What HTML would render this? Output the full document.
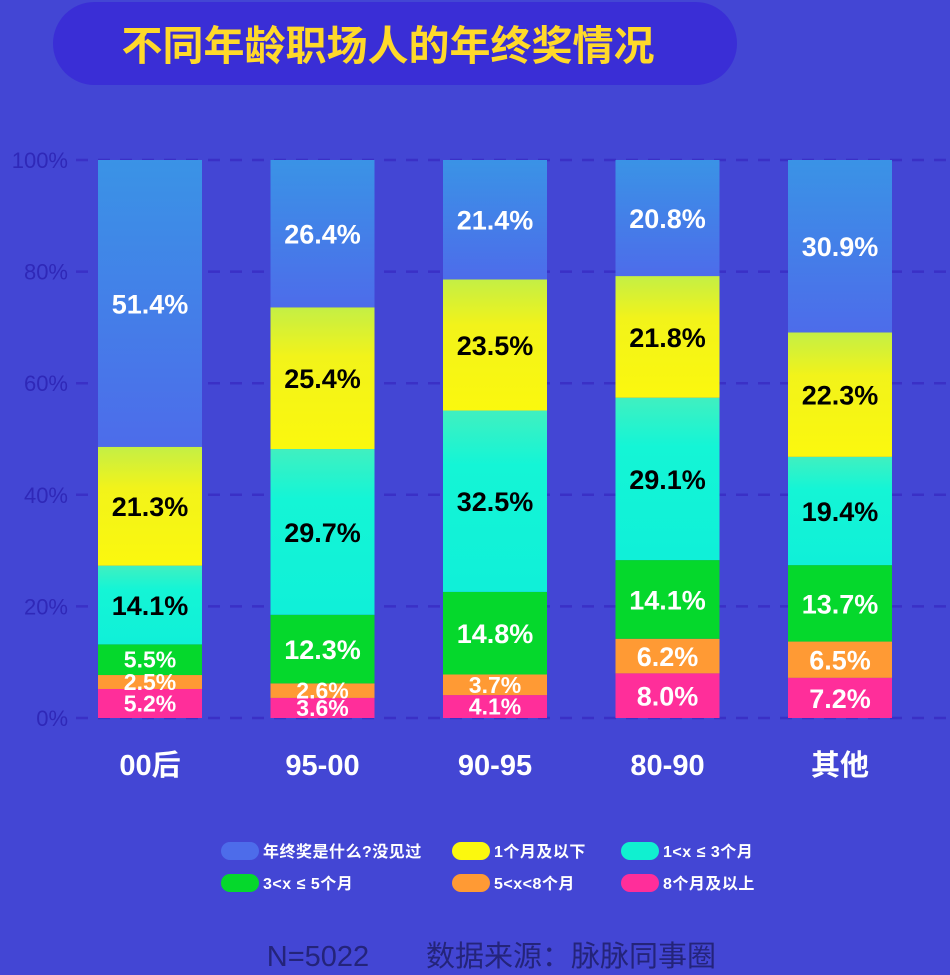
<!DOCTYPE html>
<html><head><meta charset="utf-8">
<style>
html,body{margin:0;padding:0;background:#4346d4;}
svg{display:block;font-family:"Liberation Sans","Noto Sans CJK SC",sans-serif;}
</style></head>
<body>
<svg id="chart" width="950" height="975" viewBox="0 0 950 975">
<defs>
<linearGradient id="gBlue" x1="0" y1="0" x2="0" y2="1"><stop offset="0" stop-color="#3a93e6"/><stop offset="1" stop-color="#4d6cea"/></linearGradient>
<linearGradient id="gYellow" x1="0" y1="0" x2="0" y2="1"><stop offset="0" stop-color="#c4ef45"/><stop offset="0.35" stop-color="#f2f31a"/><stop offset="1" stop-color="#fbf80e"/></linearGradient>
<linearGradient id="gCyan" x1="0" y1="0" x2="0" y2="1"><stop offset="0" stop-color="#40f0c0"/><stop offset="0.3" stop-color="#14f5d6"/><stop offset="1" stop-color="#10f0d8"/></linearGradient>
</defs>
<rect x="0" y="0" width="950" height="975" fill="#4346d4"/>
<rect x="53" y="2" width="684" height="83" rx="41.5" fill="#3a2ed6"/>
<text x="388" y="60" text-anchor="middle" font-size="41" font-weight="bold" fill="#ffd92a">不同年龄职场人的年终奖情况</text>
<g id="grid"></g>
<g id="bars"></g>
<g id="legend"></g>
<text x="318" y="966" text-anchor="middle" font-size="29" fill="#24247a">N=5022</text>
<text x="571" y="966" text-anchor="middle" font-size="29" fill="#24247a">数据来源：脉脉同事圈</text>
</svg>
<script>
const categories = ["00后","95-00","90-95","80-90","其他"];
const seriesNames = ["8个月及以上","5<x<8个月","3<x ≤ 5个月","1<x ≤ 3个月","1个月及以下","年终奖是什么?没见过"];
const pinkVals   = [5.2, 3.6, 4.1, 8.0, 7.2];
const orangeVals = [2.5, 2.6, 3.7, 6.2, 6.5];
const greenVals  = [5.5, 12.3, 14.8, 14.1, 13.7];
const cyanVals   = [14.1, 29.7, 32.5, 29.1, 19.4];
const yellowVals = [21.3, 25.4, 23.5, 21.8, 22.3];
const blueVals   = [51.4, 26.4, 21.4, 20.8, 30.9];
const yTicks = [0, 20, 40, 60, 80, 100];

const NS = "http://www.w3.org/2000/svg";
const y0 = 718, y100 = 160;
const yScale = v => y0 - (y0 - y100) * v / 100;
const xCenter = i => 150 + i * 172.5;
const barW = 104;
function mk(tag, attrs, parent){const e=document.createElementNS(NS,tag);for(const k in attrs)e.setAttribute(k,attrs[k]);parent.appendChild(e);return e;}

const grid = document.getElementById("grid");
yTicks.forEach(t=>{
  const y = yScale(t);
  const l = mk("line",{x1:76,x2:950,y1:y,y2:y,stroke:"#3a30c6","stroke-width":2.5,"stroke-dasharray":"12 10"},grid);
  
  
  const tx = mk("text",{x:68,y:y+8,"text-anchor":"end","font-size":22,fill:"#2f28b8"},grid);
  tx.textContent = t + "%";
  
  
});

const series = [
  {vals:pinkVals, fill:"#ff2e9a", txt:"#fff", key:"pink"},
  {vals:orangeVals, fill:"#ff9a34", txt:"#fff", key:"orange"},
  {vals:greenVals, fill:"#05d82c", txt:"#fff", key:"green"},
  {vals:cyanVals, fill:"url(#gCyan)", txt:"#000", key:"cyan"},
  {vals:yellowVals, fill:"url(#gYellow)", txt:"#000", key:"yellow"},
  {vals:blueVals, fill:"url(#gBlue)", txt:"#fff", key:"blue"}
];
const bars = document.getElementById("bars");
categories.forEach((c,i)=>{
  let cum = 0;
  const x = xCenter(i) - barW/2;
  series.forEach(s=>{
    const v = s.vals[i];
    const yt = yScale(cum+v), yb = yScale(cum);
    const r = mk("rect",{x:x,y:yt,width:barW,height:yb-yt,fill:s.fill},bars);
    
    
    cum += v;
  });
  cum = 0;
  series.forEach(s=>{
    const v = s.vals[i];
    const ym = (yScale(cum+v)+yScale(cum))/2;
    const small = v < 6;
    const t = mk("text",{x:xCenter(i),y:ym+(small?8:10),"text-anchor":"middle","font-size":small?23:27,"font-weight":"bold",fill:s.txt},bars);
    t.textContent = v.toFixed(1)+"%";
    
    
    cum += v;
  });
  const cl = mk("text",{x:xCenter(i),y:775,"text-anchor":"middle","font-size":29,"font-weight":"bold",fill:"#fff"},bars);
  cl.textContent = c;
  
  
});

const legendItems = [
  {name:"年终奖是什么?没见过", color:"#4d6cea", x:221, y:851},
  {name:"1个月及以下", color:"#fbf80e", x:452, y:851},
  {name:"1<x ≤ 3个月", color:"#10f0d0", x:621, y:851},
  {name:"3<x ≤ 5个月", color:"#05d82c", x:221, y:883},
  {name:"5<x<8个月", color:"#ff9a34", x:452, y:883},
  {name:"8个月及以上", color:"#ff2e9a", x:621, y:883}
];
const legend = document.getElementById("legend");
legendItems.forEach(it=>{
  const g = mk("g",{},legend);
  
  
  mk("rect",{x:it.x,y:it.y-9,width:38,height:18,rx:9,fill:it.color},g);
  const t = mk("text",{x:it.x+42,y:it.y+6,"font-size":16,"font-weight":"bold",fill:"#fff","letter-spacing":"0.5"},g);
  t.textContent = it.name;
});
</script>
</body></html>
